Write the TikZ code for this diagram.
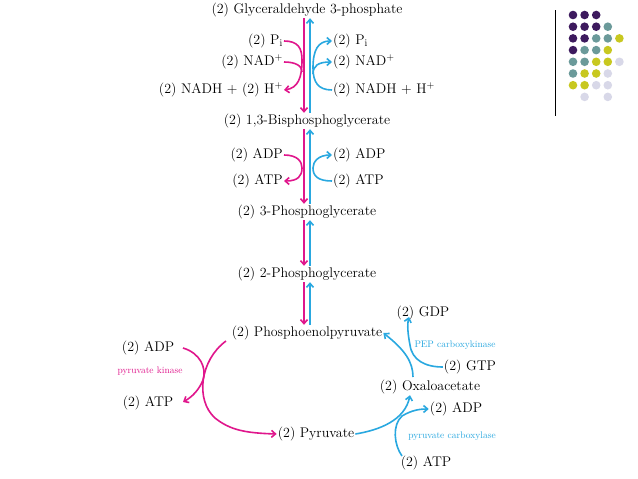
\documentclass[tikz,border=0pt]{standalone}
\usetikzlibrary{arrows.meta}
\definecolor{mg}{HTML}{E0168C}
\definecolor{cy}{HTML}{29A8E0}
\definecolor{dP}{HTML}{3D1A5E}
\definecolor{dT}{HTML}{6B9A9A}
\definecolor{dY}{HTML}{C8C820}
\definecolor{dL}{HTML}{D8D8E8}
\begin{document}
\begin{tikzpicture}[x=1pt,y=-1pt,
 lab/.style={font=\fontsize{14}{15}\selectfont,inner sep=1pt},
 enz/.style={font=\fontsize{9.5}{10}\selectfont,inner sep=1pt},
 m/.style={draw=mg,line width=1.6pt},
 c/.style={draw=cy,line width=1.6pt},
 ar/.style={-{Straight Barb[length=4pt,width=7pt]}}]
\useasboundingbox[fill=white] (0,0) rectangle (638,479);
\node[lab] (g3p) at (307,10) {(2) Glyceraldehyde 3-phosphate};
\node[lab] (bpg) at (307,121) {(2) 1,3-Bisphosphoglycerate};
\node[lab] (pg3) at (307,212) {(2) 3-Phosphoglycerate};
\node[lab] (pg2) at (307,274) {(2) 2-Phosphoglycerate};
\node[lab] (pep) at (307,333) {(2) Phosphoenolpyruvate};
\node[lab] (pyr) at (316,434) {(2) Pyruvate};
\node[lab] (oaa) at (430,387) {(2) Oxaloacetate};
% step 1 side labels
\node[lab,anchor=east] (piL) at (284,41) {(2) P$_\mathrm{i}$};
\node[lab,anchor=east] (nadL) at (284,62) {(2) NAD$^+$};
\node[lab,anchor=east] (nadhL) at (284,90) {(2) NADH + (2) H$^+$};
\node[lab,anchor=west] (piR) at (332,41) {(2) P$_\mathrm{i}$};
\node[lab,anchor=west] (nadR) at (332,62) {(2) NAD$^+$};
\node[lab,anchor=west] (nadhR) at (332,90) {(2) NADH + H$^+$};
\node[lab,anchor=east] (adpL) at (284,155) {(2) ADP};
\node[lab,anchor=east] (atpL) at (284,181) {(2) ATP};
\node[lab,anchor=west] (adpR) at (332,155) {(2) ADP};
\node[lab,anchor=west] (atpR) at (332,181) {(2) ATP};
% vertical arrows
\foreach \a/\b in {g3p/bpg,bpg/pg3,pg3/pg2,pg2/pep}{
 \draw[m,ar] ([xshift=-3pt]\a.south) -- ([xshift=-3pt]\b.north);
 \draw[c,ar] ([xshift=3pt]\b.north) -- ([xshift=3pt]\a.south);}
% side curves step 1
\draw[m,ar] (piL.east) .. controls (298,41) and (302,48) .. (302,60) .. controls (302,78) and (298,88) .. (nadhL.east);
\draw[m] (nadL.east) .. controls (296,62) and (302,66) .. (302,72);
\draw[c,ar] (nadhR.west) .. controls (318,90) and (313,82) .. (313,68) .. controls (313,50) and (318,41) .. (piR.west);
\draw[c,ar] (313,74) .. controls (313,66) and (318,62) .. (nadR.west);
% step 2
\draw[m,ar] (adpL.east) .. controls (298,155) and (302,162) .. (302,168) .. controls (302,176) and (298,181) .. (atpL.east);
\draw[c,ar] (atpR.west) .. controls (318,181) and (313,176) .. (313,168) .. controls (313,162) and (318,155) .. (adpR.west);
% pyruvate kinase
\node[lab] (adpK) at (148,348) {(2) ADP};
\node[lab] (atpK) at (148,403) {(2) ATP};
\node[enz,text=mg] (pk) at (150,371) {pyruvate kinase};
\draw[m,ar] (226,341) .. controls (200,360) and (195,400) .. (215,418) .. controls (230,430) and (245,433) .. (pyr.west);
\draw[m,ar] (183,348) .. controls (200,353) and (207,368) .. (203,380) .. controls (199,390) and (192,397) .. (183,402);
% pyruvate carboxylase
\node[lab] (adpC) at (456,409) {(2) ADP};
\node[lab] (atpC) at (426,463) {(2) ATP};
\node[enz,text=cy] (pc) at (452,436) {pyruvate carboxylase};
\draw[c,ar] (pyr.east) .. controls (380,430) and (405,420) .. (oaa.south west-|410,0);
\draw[c,ar] (402,456) .. controls (394,445) and (392,425) .. (402,416) .. controls (412,410) and (420,409) .. (adpC.west);
% PEP carboxykinase
\node[lab] (gtp) at (470,367) {(2) GTP};
\node[lab] (gdp) at (423,313) {(2) GDP};
\node[enz,text=cy] (pck) at (455,345) {PEP carboxykinase};
\draw[c,ar] (413,377) .. controls (413,362) and (405,350) .. (pep.east);
\draw[c,ar] (gtp.west) .. controls (425,367) and (412,360) .. (410,345) .. controls (408,335) and (407,325) .. (409,317);
% decoration
\draw[line width=0.8pt] (555,10) -- (555,116);
\foreach \r/\row in {0/{dP,dP,dP,,},1/{dP,dP,dP,dT,},2/{dP,dP,dT,dT,dY},3/{dP,dT,dT,dY,},4/{dT,dT,dY,dY,dL},5/{dT,dY,dY,dL,},6/{dY,dY,dL,dL,},7/{,dL,,dL,}}{
 \foreach \col [count=\i from 0] in \row {
  \ifx\col\empty\else\fill[\col] (573+11.6*\i,15+11.7*\r) circle (4.3);\fi}}
\end{tikzpicture}
\end{document}
